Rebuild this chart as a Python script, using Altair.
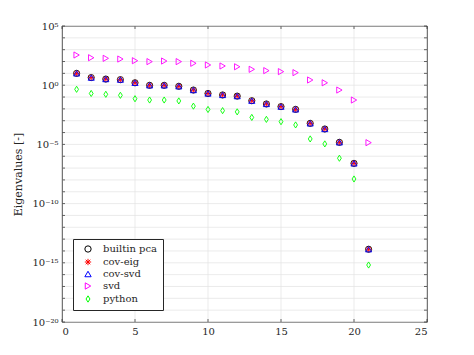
import altair as alt
import pandas as pd

# ---------------- data ----------------
index = list(range(1, 22))
builtin_pca = [10, 4.4, 3.3, 2.95, 1.6, 0.98, 0.98, 0.81, 0.39, 0.2, 0.15, 0.12,
               0.049, 0.026, 0.0155, 0.0091, 6.0e-4, 2.0e-4, 1.5e-5, 2.5e-7, 1.4e-14]
cov_eig = [10, 4.4, 3.3, 2.95, 1.6, 0.98, 0.98, 0.81, 0.39, 0.2, 0.15, 0.12,
           0.049, 0.026, 0.0155, 0.0091, 6.0e-4, 2.0e-4, 1.5e-5, 2.5e-7, 1.4e-14]
cov_svd = [10, 4.4, 3.3, 2.95, 1.6, 0.98, 0.98, 0.81, 0.39, 0.2, 0.15, 0.12,
           0.049, 0.026, 0.0155, 0.0091, 6.0e-4, 2.0e-4, 1.5e-5, 2.5e-7, 1.4e-14]
svd = [355, 209, 186, 162, 117, 98, 110, 98, 71, 51, 42, 36,
       22, 17, 14, 11.5, 2.75, 1.6, 0.39, 0.056, 1.4e-5]
python = [0.45, 0.2, 0.17, 0.14, 0.072, 0.056, 0.056, 0.047, 0.017, 0.0089, 0.0071, 0.0056,
          0.0019, 0.0013, 8.3e-4, 4.4e-4, 2.9e-5, 1.1e-5, 6.8e-7, 1.2e-8, 6.5e-16]

series_names = ["builtin pca", "cov-eig", "cov-svd", "svd", "python"]
series_colors = ["#000000", "#ff0000", "#0000ff", "#ff00ff", "#00ff00"]
ASTERISK = "M-1,0L1,0M0,-1L0,1M-0.72,-0.72L0.72,0.72M-0.72,0.72L0.72,-0.72"
DIAMOND = "M0,-1L0.62,0L0,1L-0.62,0Z"
series_shapes = ["circle", ASTERISK, "triangle-up", "triangle-right", DIAMOND]

x_ticks = [0, 5, 10, 15, 20, 25]
y_decades = [10.0 ** e for e in range(-20, 6)]
y_major = [10.0 ** e for e in range(-20, 6, 5)]

# ---------------- build table ----------------
rows = []
for name, vals in zip(series_names, [builtin_pca, cov_eig, cov_svd, svd, python]):
    for i, v in zip(index, vals):
        rows.append({"index": i, "value": v, "series": name})
df = pd.DataFrame(rows)

FONT = "DejaVu Serif"
W, H = 365, 296

xscale = alt.Scale(domain=[0, 25], nice=False, zero=False)
yscale = alt.Scale(type="log", domain=[1e-20, 1e5], nice=False)

label_expr = (
    "round(log(datum.value)/LN10)==5?'10⁵':"
    "round(log(datum.value)/LN10)==0?'10⁰':"
    "round(log(datum.value)/LN10)==-5?'10⁻⁵':"
    "round(log(datum.value)/LN10)==-10?'10⁻¹⁰':"
    "round(log(datum.value)/LN10)==-15?'10⁻¹⁵':"
    "round(log(datum.value)/LN10)==-20?'10⁻²⁰':''"
)

xaxis = alt.Axis(values=x_ticks, grid=False, ticks=False, domain=False,
                 labelFont=FONT, labelFontSize=10, labelColor="#262626",
                 labelPadding=4, title=None)
yaxis = alt.Axis(values=y_major, grid=False, ticks=False, domain=False,
                 labelExpr=label_expr, labelFont=FONT, labelFontSize=10,
                 labelColor="#262626", labelPadding=4,
                 title="Eigenvalues [-]", titleFont=FONT, titleFontSize=11,
                 titleFontWeight="normal", titleColor="#262626", titlePadding=8)

# grid layers
ygrid = alt.Chart(pd.DataFrame({"v": y_decades})).mark_rule(
    color="#e3e3e3", strokeWidth=0.7
).encode(y=alt.Y("v:Q", scale=yscale, axis=yaxis))

xgrid = alt.Chart(pd.DataFrame({"t": x_ticks[1:-1]})).mark_rule(
    color="#e3e3e3", strokeWidth=0.7
).encode(x=alt.X("t:Q", scale=xscale, axis=xaxis))

# inward ticks
ytick_l = alt.Chart(pd.DataFrame({"v": y_decades})).mark_rule(
    color="#262626", strokeWidth=0.7
).encode(y=alt.Y("v:Q", scale=yscale, axis=yaxis), x=alt.value(0), x2=alt.value(3))
ytick_r = alt.Chart(pd.DataFrame({"v": y_decades})).mark_rule(
    color="#262626", strokeWidth=0.7
).encode(y=alt.Y("v:Q", scale=yscale, axis=yaxis), x=alt.value(W - 3), x2=alt.value(W))
xtick_b = alt.Chart(pd.DataFrame({"t": x_ticks})).mark_rule(
    color="#262626", strokeWidth=0.7
).encode(x=alt.X("t:Q", scale=xscale, axis=xaxis), y=alt.value(H - 3), y2=alt.value(H))
xtick_t = alt.Chart(pd.DataFrame({"t": x_ticks})).mark_rule(
    color="#262626", strokeWidth=0.7
).encode(x=alt.X("t:Q", scale=xscale, axis=xaxis), y=alt.value(0), y2=alt.value(3))

points = alt.Chart(df).mark_point(filled=False, strokeWidth=0.9, size=38, opacity=1).encode(
    x=alt.X("index:Q", scale=xscale, axis=xaxis),
    y=alt.Y("value:Q", scale=yscale, axis=yaxis),
    color=alt.Color("series:N", sort=series_names,
                    scale=alt.Scale(domain=series_names, range=series_colors),
                    legend=alt.Legend(orient="none", legendX=11, legendY=213, title=None,
                                      strokeColor="#262626", fillColor="white",
                                      padding=5, symbolOffset=5, labelFont=FONT,
                                      labelFontSize=10, labelColor="#262626",
                                      symbolSize=40, symbolStrokeWidth=1,
                                      rowPadding=1, labelOffset=10)),
    shape=alt.Shape("series:N", sort=series_names,
                    scale=alt.Scale(domain=series_names, range=series_shapes),
                    legend=alt.Legend(orient="none", legendX=11, legendY=213, title=None)),
    order=alt.Order("series_order:Q"),
).transform_calculate(
    series_order="indexof(['builtin pca','cov-eig','cov-svd','svd','python'], datum.series)"
)

chart = alt.layer(ygrid, xgrid, ytick_l, ytick_r, xtick_b, xtick_t, points).properties(
    width=W, height=H,
    padding={"left": 62, "top": 26, "right": 47, "bottom": 33},
    autosize="none",
    background="white",
).configure_view(stroke="#262626", strokeWidth=0.8)

chart.save("out.html", embed_options={"renderer": "svg", "actions": False})
